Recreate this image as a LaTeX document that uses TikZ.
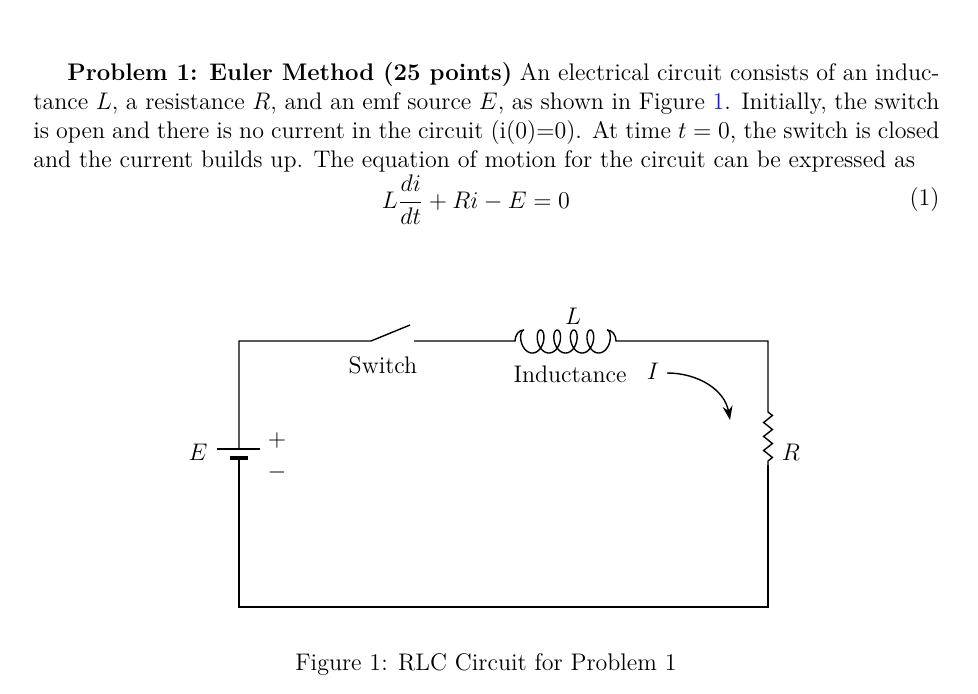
\documentclass[tikz,border=0pt]{standalone}
\usetikzlibrary{decorations.pathmorphing,arrows.meta}
\definecolor{linkblue}{rgb}{0.1,0.1,0.9}
\tikzset{wire/.style={line width=0.7pt},lbl/.style={inner sep=0pt,font=\fontsize{12}{14}\selectfont}}
\begin{document}
\begin{tikzpicture}[x=0.5pt,y=-0.5pt]
\useasboundingbox (0,0) rectangle (978,694);
\node[anchor=north west,inner sep=0pt,text width=453pt,align=justify,font=\fontsize{12}{14.6}\selectfont] (para) at (33,62) {\parindent=17pt\indent\textbf{Problem 1: Euler Method (25 points)} An electrical circuit consists of an inductance $L$, a resistance $R$, and an emf source $E$, as shown in Figure {\color{linkblue}1}. Initially, the switch is open and there is no current in the circuit (i(0)=0). At time $t=0$, the switch is closed and the current builds up. The equation of motion for the circuit can be expressed as\par};
\node[lbl] (eq) at (476,200) {$\displaystyle L\frac{di}{dt}+Ri-E=0$};
\node[lbl,anchor=east] (eqn) at (940,200) {(1)};
% circuit
\coordinate (tl) at (239,341);
\coordinate (tr) at (768,341);
\coordinate (bl) at (239,607);
\coordinate (br) at (768,607);
\coordinate (sw1) at (371,341);
\coordinate (sw2) at (410,325);
\coordinate (sw3) at (414,341);
\coordinate (l1) at (515,341);
\coordinate (l2) at (616,341);
\coordinate (r1) at (768,408);
\coordinate (r2) at (768,465);
\coordinate (bp) at (239,449);
\coordinate (bn) at (239,458);
\draw[wire] (bp) -- (tl) -- (sw1) -- (sw2);
\draw[wire] (sw3) -- (l1) to[out=90,in=180] (524,330);
\draw[wire] plot[domain=0:31.4159,samples=300,variable=\t,smooth] ({524+2.64*\t-7*sin(\t r)},{341.5-11.5*cos(\t r)});
\draw[wire] (607,330) to[out=0,in=90] (l2) -- (tr) -- (r1);
\draw[wire,decorate,decoration={zigzag,segment length=7pt,amplitude=2.2pt,pre length=2pt,post length=2pt}] (r1) -- (r2);
\draw[wire] (r2) -- (br) -- (bl) -- (bn);
\draw[line width=1.2pt] (217,449) -- (260,449);
\draw[line width=1.6pt] (230,458) -- (248,458);
\node[lbl] (E) at (198,452) {$E$};
\node[lbl] (plus) at (277,440) {$+$};
\node[lbl] (minus) at (277,472) {$-$};
\node[lbl] (sw) at (383,365) {Switch};
\node[lbl] (Lb) at (573,316) {$L$};
\node[lbl] (ind) at (570,374) {Inductance};
\node[lbl] (I) at (653,371) {$I$};
\node[lbl] (R) at (791,452) {$R$};
\draw[wire,-{Stealth[length=7pt,width=5pt]}] (667,373) to[out=0,in=100] (730,420);
\node[lbl] (cap) at (486,665) {Figure 1: RLC Circuit for Problem 1};
\end{tikzpicture}
\end{document}
